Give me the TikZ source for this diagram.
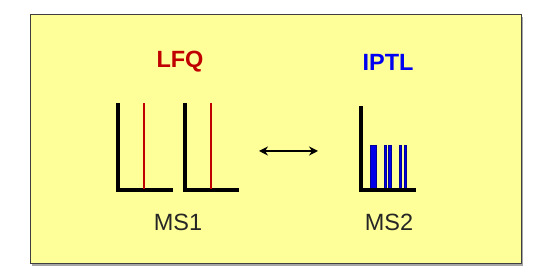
\documentclass[tikz,border=0pt]{standalone}
\usepackage{fontspec}
\setmainfont{Liberation Sans}
\usetikzlibrary{arrows.meta}
\definecolor{bgyellow}{HTML}{FFFF99}
\definecolor{lfqred}{HTML}{C00000}
\definecolor{iptlblue}{HTML}{0000F0}
\definecolor{barblue}{HTML}{0000E8}
\definecolor{boxgray}{HTML}{404040}
\begin{document}
\begin{tikzpicture}[x=1pt,y=1pt,
  axis/.style={line width=3.2pt,black},
  peak/.style={line width=2.6pt,lfqred},
  bar/.style={fill=barblue,draw=blue!60!black,line width=0.4pt},
  title/.style={font=\fontsize{23.5}{28}\selectfont\bfseries},
  lbl/.style={font=\fontsize{23.5}{28}\selectfont,text=black!85}]
\useasboundingbox (0,0) rectangle (550,280);
\fill[white] (0,0) rectangle (550,280);
% frame with slight shadow
\fill[black!35] (32,14) rectangle (523,263);
\draw[fill=bgyellow,draw=boxgray,line width=1pt] (30,16) rectangle (521,265);
% titles
\node[title,text=lfqred] (lfq) at (180,218) {LFQ};
\node[title,text=iptlblue] (iptl) at (388,218) {IPTL};
% MS1 spectra
\coordinate (a1) at (118,177); \coordinate (o1) at (118,90); \coordinate (e1) at (173,90);
\draw[axis,line join=miter] (a1) -- (o1) -- (e1);
\coordinate (r1t) at (144,177); \coordinate (r1b) at (144,91);
\draw[peak] (r1t) -- (r1b);
\coordinate (a2) at (185,177); \coordinate (o2) at (185,90); \coordinate (e2) at (239,90);
\draw[axis,line join=miter] (a2) -- (o2) -- (e2);
\coordinate (r2t) at (211,177); \coordinate (r2b) at (211,91);
\draw[peak] (r2t) -- (r2b);
% MS2 bars
\filldraw[bar] (370.5,90) rectangle (376.5,135);
\filldraw[bar] (384,90) rectangle (386.2,135);
\filldraw[bar] (388.6,90) rectangle (390.8,135);
\filldraw[bar] (399.3,90) rectangle (401.5,135);
\filldraw[bar] (403.7,90) rectangle (405.9,135);
% MS2 axes
\coordinate (a3) at (361,174); \coordinate (o3) at (361,90); \coordinate (e3) at (416,90);
\draw[axis,line join=miter] (a3) -- (o3) -- (e3);
% double arrow
\coordinate (arL) at (259,129); \coordinate (arR) at (318,129);
\draw[line width=2.8pt,{Stealth[length=9pt,width=9pt]}-{Stealth[length=9pt,width=9pt]}] (arL) -- (arR);
% labels
\node[lbl] (ms1) at (178,58) {MS1};
\node[lbl] (ms2) at (389,58) {MS2};
\end{tikzpicture}
\end{document}
